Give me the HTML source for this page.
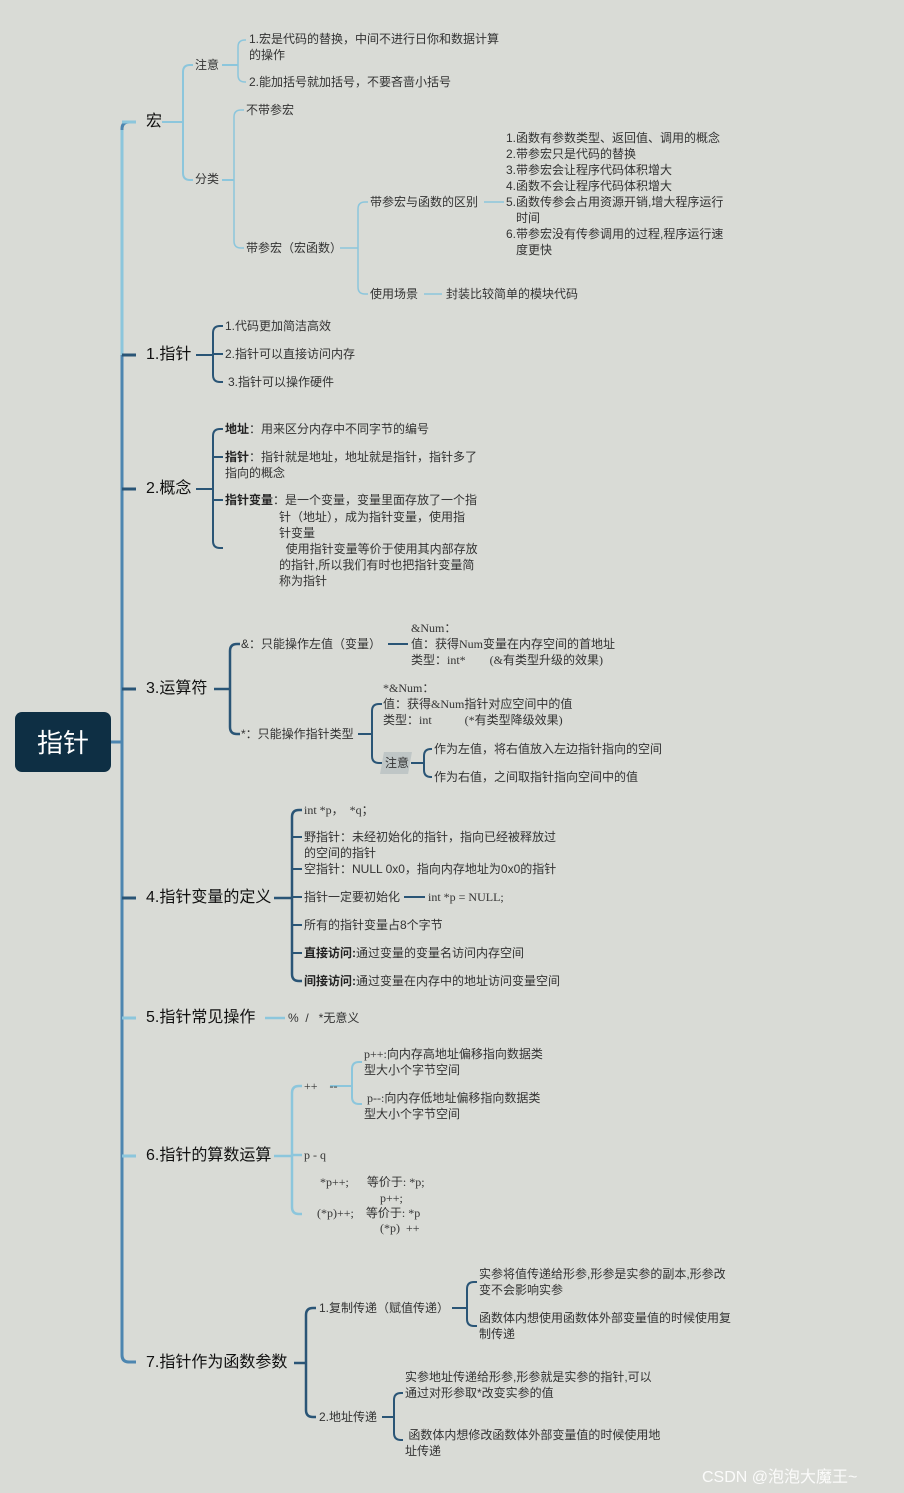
<!DOCTYPE html>
<html><head><meta charset="utf-8"><style>
html,body{margin:0;padding:0;}
body{width:904px;height:1493px;background:#d9dbd6;position:relative;overflow:hidden;font-family:"Liberation Sans","Noto Sans CJK SC",sans-serif;color:#333;}
.t{position:absolute;font-size:12px;line-height:16px;white-space:nowrap;}
.m{position:absolute;font-size:16px;line-height:20px;white-space:nowrap;color:#111;}
.s{font-family:"Liberation Serif","Noto Sans CJK SC",serif;}
b{font-weight:bold;color:#222}
svg{position:absolute;left:0;top:0;}
</style></head><body>
<svg id="g" width="904" height="1493"></svg>
<div style="position:absolute;left:15px;top:712px;width:96px;height:60px;background:#0e2f44;border-radius:7px;color:#fff;font-size:26px;line-height:60px;text-align:center;font-family:'Noto Sans CJK SC',sans-serif;">指针</div>

<div class="m" style="left:146px;top:112px">宏</div>
<div class="m" style="left:146px;top:345px">1.指针</div>
<div class="m" style="left:146px;top:479px">2.概念</div>
<div class="m" style="left:146px;top:679px">3.运算符</div>
<div class="m" style="left:146px;top:888px">4.指针变量的定义</div>
<div class="m" style="left:146px;top:1008px">5.指针常见操作</div>
<div class="m" style="left:146px;top:1146px">6.指针的算数运算</div>
<div class="m" style="left:146px;top:1353px">7.指针作为函数参数</div>

<div class="t" style="left:195px;top:57px">注意</div>
<div class="t" style="left:249px;top:31px">1.宏是代码的替换，中间不进行日你和数据计算<br>的操作</div>
<div class="t" style="left:249px;top:74px">2.能加括号就加括号，不要吝啬小括号</div>
<div class="t" style="left:195px;top:171px">分类</div>
<div class="t" style="left:246px;top:102px">不带参宏</div>
<div class="t" style="left:246px;top:240px">带参宏（宏函数）</div>
<div class="t" style="left:370px;top:194px">带参宏与函数的区别</div>
<div class="t" style="left:506px;top:130px">1.函数有参数类型、返回值、调用的概念<br>2.带参宏只是代码的替换<br>3.带参宏会让程序代码体积增大<br>4.函数不会让程序代码体积增大<br>5.函数传参会占用资源开销,增大程序运行<br>&nbsp;&nbsp;&nbsp;时间<br>6.带参宏没有传参调用的过程,程序运行速<br>&nbsp;&nbsp;&nbsp;度更快</div>
<div class="t" style="left:370px;top:286px">使用场景</div>
<div class="t" style="left:446px;top:286px">封装比较简单的模块代码</div>

<div class="t" style="left:225px;top:318px">1.代码更加简洁高效</div>
<div class="t" style="left:225px;top:346px">2.指针可以直接访问内存</div>
<div class="t" style="left:228px;top:374px">3.指针可以操作硬件</div>

<div class="t" style="left:225px;top:421px"><b>地址</b>：用来区分内存中不同字节的编号</div>
<div class="t" style="left:225px;top:449px"><b>指针</b>：指针就是地址，地址就是指针，指针多了<br>指向的概念</div>
<div class="t" style="left:225px;top:492px"><b>指针变量</b>：是一个变量，变量里面存放了一个指</div>
<div class="t" style="left:279px;top:509px">针（地址），成为指针变量，使用指<br>针变量<br>&nbsp;&nbsp;使用指针变量等价于使用其内部存放<br>的指针,所以我们有时也把指针变量简<br>称为指针</div>

<div class="t" style="left:241px;top:636px">&amp;：只能操作左值（变量）</div>
<div class="t s" style="left:411px;top:620px">&amp;Num：<br>值：获得Num变量在内存空间的首地址<br>类型：int* &nbsp;&nbsp;&nbsp;&nbsp;&nbsp;&nbsp;&nbsp;(&amp;有类型升级的效果)</div>
<div class="t" style="left:241px;top:726px">*：只能操作指针类型</div>
<div class="t s" style="left:383px;top:680px">*&amp;Num：<br>值：获得&amp;Num指针对应空间中的值<br>类型：int &nbsp;&nbsp;&nbsp;&nbsp;&nbsp;&nbsp;&nbsp;&nbsp;&nbsp;&nbsp;(*有类型降级效果)</div>
<div style="position:absolute;left:382px;top:752px;width:28px;height:22px;background:#b8c0c2;transform:skewX(-10deg);opacity:.8"></div>
<div class="t" style="left:385px;top:755px">注意</div>
<div class="t" style="left:434px;top:741px">作为左值，将右值放入左边指针指向的空间</div>
<div class="t" style="left:434px;top:769px">作为右值，之间取指针指向空间中的值</div>

<div class="t s" style="left:304px;top:802px">int *p，&nbsp;&nbsp;*q；</div>
<div class="t" style="left:304px;top:829px">野指针：未经初始化的指针，指向已经被释放过<br>的空间的指针<br>空指针：NULL 0x0，指向内存地址为0x0的指针</div>
<div class="t" style="left:304px;top:889px">指针一定要初始化</div>
<div class="t s" style="left:428px;top:889px">int *p = NULL;</div>
<div class="t" style="left:304px;top:917px">所有的指针变量占8个字节</div>
<div class="t" style="left:304px;top:945px"><b>直接访问:</b>通过变量的变量名访问内存空间</div>
<div class="t" style="left:304px;top:973px"><b>间接访问:</b>通过变量在内存中的地址访问变量空间</div>

<div class="t" style="left:288px;top:1010px">% &nbsp;/ &nbsp;&nbsp;*无意义</div>

<div class="t s" style="left:304px;top:1078px">++ &nbsp;&nbsp;&nbsp;--</div>
<div class="t s" style="left:364px;top:1046px">p++:向内存高地址偏移指向数据类<br>型大小个字节空间</div>
<div class="t s" style="left:364px;top:1090px">&nbsp;p--:向内存低地址偏移指向数据类<br>型大小个字节空间</div>
<div class="t s" style="left:304px;top:1147px">p - q</div>
<div class="t s" style="left:320px;top:1174px">*p++; &nbsp;&nbsp;&nbsp;&nbsp;&nbsp;等价于: *p;</div>
<div class="t s" style="left:380px;top:1190px">p++;</div>
<div class="t s" style="left:317px;top:1205px">(*p)++; &nbsp;&nbsp;&nbsp;等价于: *p</div>
<div class="t s" style="left:380px;top:1220px">(*p) &nbsp;++</div>

<div class="t" style="left:319px;top:1300px">1.复制传递（赋值传递）</div>
<div class="t" style="left:479px;top:1266px">实参将值传递给形参,形参是实参的副本,形参改<br>变不会影响实参</div>
<div class="t" style="left:479px;top:1310px">函数体内想使用函数体外部变量值的时候使用复<br>制传递</div>
<div class="t" style="left:319px;top:1409px">2.地址传递</div>
<div class="t" style="left:405px;top:1369px">实参地址传递给形参,形参就是实参的指针,可以<br>通过对形参取*改变实参的值</div>
<div class="t" style="left:405px;top:1427px">&nbsp;函数体内想修改函数体外部变量值的时候使用地<br>址传递</div>

<div style="position:absolute;left:702px;top:1463px;font-size:16px;color:#fff;opacity:.9;font-family:'Liberation Sans','Noto Sans CJK SC',sans-serif;">CSDN @泡泡大魔王~</div>

<script>
var svg=document.getElementById('g'),h='';
var L='#8cc6dc',D='#2a5576',T='#4d86b0';
function ln(x1,y1,x2,y2,c,w){h+='<line x1="'+x1+'" y1="'+y1+'" x2="'+x2+'" y2="'+y2+'" stroke="'+c+'" stroke-width="'+(w||2)+'"/>';}
function br(x,y1,y2,ex,c,w){var r=7;h+='<path d="M'+ex+' '+y1+' H'+(x+r)+' Q'+x+' '+y1+' '+x+' '+(y1+r)+' V'+(y2-r)+' Q'+x+' '+y2+' '+(x+r)+' '+y2+' H'+ex+'" fill="none" stroke="'+c+'" stroke-width="'+(w||2)+'"/>';}
ln(111,742,122,742,T,3);
br(122,122,1362,136,T,3);
h+='<line x1="122" y1="130" x2="122" y2="355" stroke="'+L+'" stroke-width="3"/>';
[[355,D],[489,D],[689,D],[898,D],[1018,L],[1156,L]].forEach(function(a){ln(122,a[0],136,a[0],a[1],3);});
ln(122,122,136,122,L,3);
ln(162,122,183,122,L,2);br(183,65,180,193,L,2);
ln(222,65,238,65,L,2);br(238,40,82,246,L,1.5);
ln(222,180,234,180,L,2);br(234,110,248,244,L,1.5);
ln(340,248,358,248,L,1.5);br(358,202,294,368,L,1.5);
ln(484,202,504,202,L,1.5);ln(424,294,442,294,L,1.5);
ln(196,355,213,355,D,2);br(213,326,382,223,D,2);ln(213,354,223,354,D,2);
ln(196,489,213,489,D,2);br(213,429,548,223,D,2);ln(213,457,223,457,D,2);ln(213,500,223,500,D,2);
ln(214,689,230,689,D,2.5);br(230,644,734,240,D,2.5);
ln(388,644,408,644,D,2);
ln(358,734,372,734,D,2);br(372,704,763,382,D,2);
ln(411,763,424,763,D,2);br(424,749,777,432,D,2);
ln(274,898,292,898,D,2.5);br(292,810,981,302,D,2.5);
[837,869,897,925,953].forEach(function(y){ln(292,y,302,y,D,2);});
ln(404,897,425,897,D,2);
ln(265,1018,285,1018,L,2.5);
ln(274,1156,292,1156,L,2.5);br(292,1086,1214,302,L,2.5);ln(292,1155,302,1155,L,2.5);
ln(330,1086,352,1086,L,2);br(352,1062,1104,362,L,2);
ln(294,1363,306,1363,D,2.5);br(306,1308,1417,316,D,2.5);
ln(452,1308,467,1308,D,2);br(467,1282,1326,477,D,2);
ln(382,1417,394,1417,D,2);br(394,1393,1440,403,D,2);
svg.innerHTML=h;
</script>
</body></html>
